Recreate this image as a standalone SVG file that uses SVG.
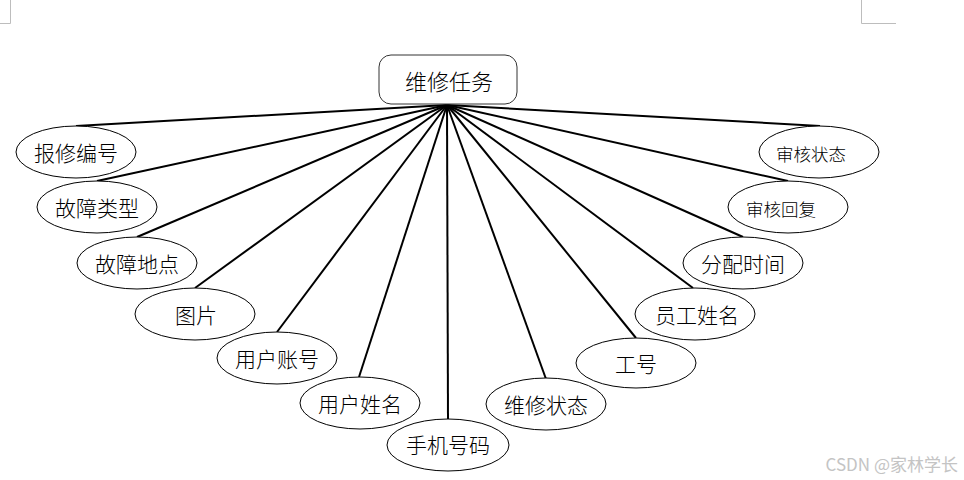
<svg xmlns="http://www.w3.org/2000/svg" width="964" height="480" viewBox="0 0 964 480">
<style>
.e{fill:#fff;stroke:#000;stroke-width:1}
.t{font-family:"Noto Sans CJK SC","Liberation Serif",serif;font-size:21px;font-weight:300;fill:#000;text-anchor:middle;dominant-baseline:central}
.s{font-size:17.5px}
.c line{stroke:#000;stroke-width:2}
.m{stroke:#bdbdbd;stroke-width:1;fill:none}
</style>
<rect width="964" height="480" fill="#fff"/>
<path class="m" d="M10.5 0V23.5H0M861.5 0V23.5H896"/>
<g class="c">
<line x1="447" y1="105" x2="76" y2="126"/>
<line x1="447" y1="105" x2="97" y2="181"/>
<line x1="447" y1="105" x2="137" y2="237"/>
<line x1="447" y1="105" x2="195" y2="288"/>
<line x1="447" y1="105" x2="277" y2="332"/>
<line x1="447" y1="105" x2="359" y2="377"/>
<line x1="447" y1="105" x2="448" y2="419"/>
<line x1="447" y1="105" x2="546" y2="379"/>
<line x1="447" y1="105" x2="636" y2="338"/>
<line x1="447" y1="105" x2="693" y2="288"/>
<line x1="447" y1="105" x2="743" y2="237"/>
<line x1="447" y1="105" x2="788" y2="181"/>
<line x1="447" y1="105" x2="820" y2="126"/>
</g>
<g id="root"><rect x="379" y="55" width="138" height="49" rx="12" fill="#fff" stroke="#333" stroke-width="1"/><text class="t" x="449" y="80" style="font-size:22px">维修任务</text></g>
<g id="n1"><ellipse class="e" cx="76" cy="152" rx="60" ry="26"/><text class="t" x="76" y="152">报修编号</text></g>
<g id="n2"><ellipse class="e" cx="97" cy="207" rx="60" ry="26"/><text class="t" x="97" y="207">故障类型</text></g>
<g id="n3"><ellipse class="e" cx="137" cy="263" rx="60" ry="26"/><text class="t" x="137" y="263">故障地点</text></g>
<g id="n4"><ellipse class="e" cx="195" cy="314" rx="60" ry="26"/><text class="t" x="196" y="314">图片</text></g>
<g id="n5"><ellipse class="e" cx="277" cy="358" rx="60" ry="26"/><text class="t" x="277" y="358">用户账号</text></g>
<g id="n6"><ellipse class="e" cx="360" cy="403" rx="60" ry="26"/><text class="t" x="360" y="403">用户姓名</text></g>
<g id="n7"><ellipse class="e" cx="448" cy="445" rx="61" ry="26"/><text class="t" x="448" y="444">手机号码</text></g>
<g id="n8"><ellipse class="e" cx="546" cy="404" rx="60" ry="26"/><text class="t" x="546" y="404">维修状态</text></g>
<g id="n9"><ellipse class="e" cx="636" cy="363" rx="60" ry="25"/><text class="t" x="636" y="363">工号</text></g>
<g id="n10"><ellipse class="e" cx="695" cy="314" rx="60" ry="26"/><text class="t" x="697" y="314">员工姓名</text></g>
<g id="n11"><ellipse class="e" cx="743" cy="263" rx="60" ry="26"/><text class="t" x="743" y="263">分配时间</text></g>
<g id="n12"><ellipse class="e" cx="788" cy="207" rx="60" ry="26"/><text class="t s" x="781" y="208">审核回复</text></g>
<g id="n13"><ellipse class="e" cx="819" cy="152" rx="60" ry="26"/><text class="t s" x="811" y="153">审核状态</text></g>
<text x="958" y="463" text-anchor="end" dominant-baseline="central" style="font-family:'Noto Sans CJK SC','Liberation Sans',sans-serif;font-size:17px;fill:#c4c4c4">CSDN @家林学长</text>
</svg>
